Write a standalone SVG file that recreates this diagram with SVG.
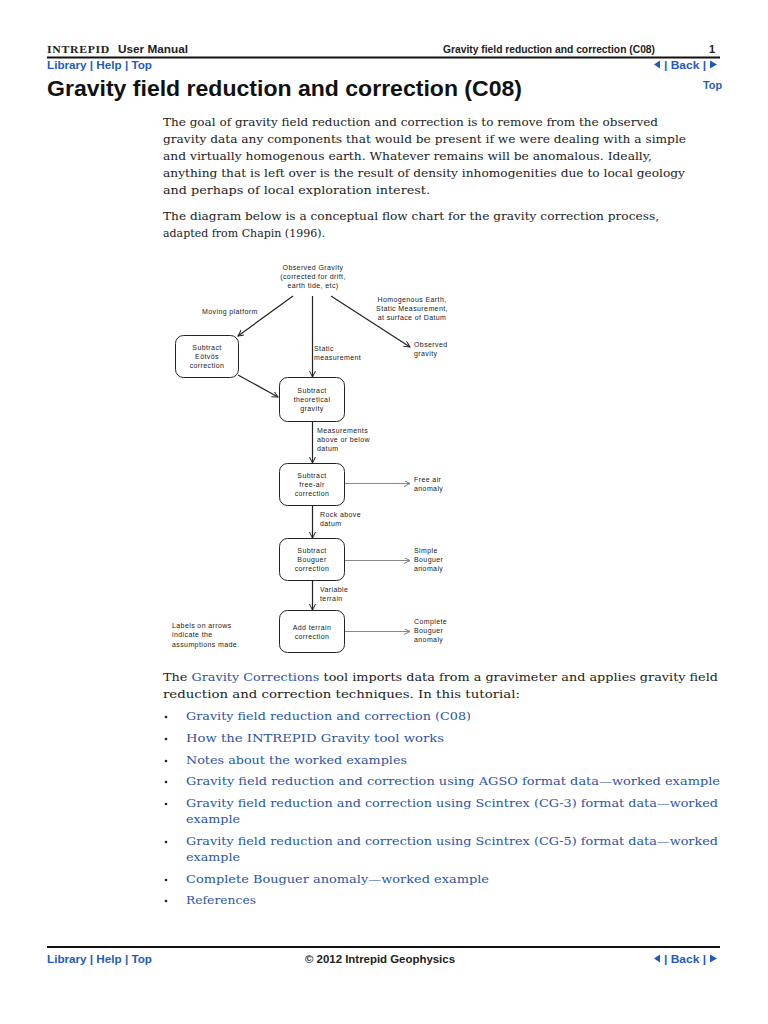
<svg xmlns="http://www.w3.org/2000/svg" width="768" height="1024" viewBox="0 0 768 1024">
<style>
.hd{font-family:"Liberation Sans",Arial,sans-serif;font-size:11px;font-weight:bold;fill:#222}
.lk{font-family:"Liberation Sans",Arial,sans-serif;font-size:11px;font-weight:bold;fill:#1f5cb8}
.title{font-family:"Liberation Sans",Arial,sans-serif;font-size:22px;font-weight:bold;fill:#111}
.body{font-family:"DejaVu Serif","Liberation Serif",serif;font-size:11.5px;fill:#222}
.blink{font-family:"DejaVu Serif","Liberation Serif",serif;font-size:11.5px;fill:#2a55a8}
.d{font-family:"Liberation Sans",Arial,sans-serif;font-size:7px;letter-spacing:0.4px;fill:#222}
.dc{font-family:"Liberation Sans",Arial,sans-serif;font-size:7px;letter-spacing:0.4px;fill:#222;text-anchor:middle}
.box{fill:#fff;stroke:#222;stroke-width:1}
.ln{stroke:#222;stroke-width:1.2;fill:none}
.lg{stroke:#888;stroke-width:1;fill:none}
</style>
<defs>
<marker id="ah" markerWidth="8" markerHeight="8" refX="6" refY="3" orient="auto" markerUnits="userSpaceOnUse">
<path d="M0,0 L6,3 L0,6" fill="none" stroke="#222" stroke-width="1"/>
</marker>
<marker id="ahg" markerWidth="8" markerHeight="8" refX="6" refY="3" orient="auto" markerUnits="userSpaceOnUse">
<path d="M0,0 L6,3 L0,6" fill="none" stroke="#777" stroke-width="1"/>
</marker>
</defs>
<rect width="768" height="1024" fill="#fff"/>

<!-- header -->
<g id="header">
<text x="47" y="53" font-family="Liberation Serif,serif" font-size="10" font-weight="bold" letter-spacing="0.6" fill="#222" textLength="63" lengthAdjust="spacingAndGlyphs">INTREPID</text>
<text class="hd" x="118" y="53" textLength="70" lengthAdjust="spacingAndGlyphs">User Manual</text>
<text class="hd" x="443" y="53" textLength="212" lengthAdjust="spacingAndGlyphs">Gravity field reduction and correction (C08)</text>
<text class="hd" x="709" y="53">1</text>
<rect x="47" y="56.5" width="673" height="2" fill="#111"/>
<text class="lk" x="47" y="69" textLength="105" lengthAdjust="spacingAndGlyphs">Library | Help | Top</text>
<path d="M660,60.5 L654,64.5 L660,68.5 Z" fill="#1f5cb8"/>
<text class="lk" x="664" y="69" textLength="42" lengthAdjust="spacingAndGlyphs">| Back |</text>
<path d="M710,60.5 L717,64.5 L710,68.5 Z" fill="#1f5cb8"/>
<text class="title" x="47" y="96" textLength="475" lengthAdjust="spacingAndGlyphs">Gravity field reduction and correction (C08)</text>
<text class="lk" x="703" y="89" textLength="19" lengthAdjust="spacingAndGlyphs">Top</text>
</g>

<!-- intro text -->
<g id="intro">
<text class="body" x="163" y="126" textLength="495" lengthAdjust="spacingAndGlyphs">The goal of gravity field reduction and correction is to remove from the observed</text>
<text class="body" x="163" y="143" textLength="523" lengthAdjust="spacingAndGlyphs">gravity data any components that would be present if we were dealing with a simple</text>
<text class="body" x="163" y="160" textLength="489" lengthAdjust="spacingAndGlyphs">and virtually homogenous earth. Whatever remains will be anomalous. Ideally,</text>
<text class="body" x="163" y="177" textLength="522" lengthAdjust="spacingAndGlyphs">anything that is left over is the result of density inhomogenities due to local geology</text>
<text class="body" x="163" y="194" textLength="267" lengthAdjust="spacingAndGlyphs">and perhaps of local exploration interest.</text>
<text class="body" x="163" y="220" textLength="496" lengthAdjust="spacingAndGlyphs">The diagram below is a conceptual flow chart for the gravity correction process,</text>
<text class="body" x="163" y="237" textLength="162" lengthAdjust="spacingAndGlyphs">adapted from Chapin (1996).</text>
</g>

<!-- connectors -->
<g id="connectors">
<line class="ln" x1="312.5" y1="296" x2="312.5" y2="377" marker-end="url(#ah)"/>
<line class="ln" x1="293" y1="296" x2="238" y2="336" marker-end="url(#ah)"/>
<line class="ln" x1="331" y1="296" x2="410" y2="347" marker-end="url(#ah)"/>
<line class="ln" x1="238" y1="375" x2="278" y2="397" marker-end="url(#ah)"/>
<line class="ln" x1="312.5" y1="421" x2="312.5" y2="463" marker-end="url(#ah)"/>
<line class="lg" x1="345" y1="483.5" x2="410" y2="483.5" marker-end="url(#ahg)"/>
<line class="ln" x1="312.5" y1="505" x2="312.5" y2="538" marker-end="url(#ah)"/>
<line class="lg" x1="345" y1="560.5" x2="410" y2="560.5" marker-end="url(#ahg)"/>
<line class="ln" x1="312.5" y1="581" x2="312.5" y2="610" marker-end="url(#ah)"/>
<line class="lg" x1="345" y1="631.5" x2="410" y2="631.5" marker-end="url(#ahg)"/>
</g>

<!-- nodes -->
<g id="n-observed">
<text class="dc" x="313" y="270">Observed Gravity</text>
<text class="dc" x="313" y="279">(corrected for drift,</text>
<text class="dc" x="313" y="288">earth tide, etc)</text>
</g>
<g id="lbl-moving"><text class="d" x="202" y="314">Moving platform</text></g>
<g id="lbl-homog">
<text class="dc" x="412" y="302">Homogenous Earth,</text>
<text class="dc" x="412" y="311">Static Measurement,</text>
<text class="dc" x="412" y="320">at surface of Datum</text>
</g>
<g id="n-obsgrav">
<text class="d" x="414" y="347">Observed</text>
<text class="d" x="414" y="356">gravity</text>
</g>
<g id="n-eotvos">
<rect class="box" x="175.5" y="335.5" width="63" height="42" rx="8"/>
<text class="dc" x="207" y="350">Subtract</text>
<text class="dc" x="207" y="359">Eötvös</text>
<text class="dc" x="207" y="368">correction</text>
</g>
<g id="lbl-static">
<text class="d" x="314" y="351">Static</text>
<text class="d" x="314" y="360">measurement</text>
</g>
<g id="n-theoretical">
<rect class="box" x="279.5" y="377.5" width="65" height="44" rx="8"/>
<text class="dc" x="312" y="393">Subtract</text>
<text class="dc" x="312" y="402">theoretical</text>
<text class="dc" x="312" y="411">gravity</text>
</g>
<g id="lbl-meas">
<text class="d" x="317" y="433">Measurements</text>
<text class="d" x="317" y="442">above or below</text>
<text class="d" x="317" y="451">datum</text>
</g>
<g id="n-freeair">
<rect class="box" x="279.5" y="463.5" width="65" height="42" rx="8"/>
<text class="dc" x="312" y="478">Subtract</text>
<text class="dc" x="312" y="487">free-air</text>
<text class="dc" x="312" y="496">correction</text>
</g>
<g id="n-freeanom">
<text class="d" x="414" y="482">Free air</text>
<text class="d" x="414" y="491">anomaly</text>
</g>
<g id="lbl-rock">
<text class="d" x="320" y="517">Rock above</text>
<text class="d" x="320" y="526">datum</text>
</g>
<g id="n-bouguer">
<rect class="box" x="279.5" y="538.5" width="65" height="42" rx="8"/>
<text class="dc" x="312" y="553">Subtract</text>
<text class="dc" x="312" y="562">Bouguer</text>
<text class="dc" x="312" y="571">correction</text>
</g>
<g id="n-simple">
<text class="d" x="414" y="553">Simple</text>
<text class="d" x="414" y="562">Bouguer</text>
<text class="d" x="414" y="571">anomaly</text>
</g>
<g id="lbl-variable">
<text class="d" x="320" y="592">Variable</text>
<text class="d" x="320" y="601">terrain</text>
</g>
<g id="n-terrain">
<rect class="box" x="279.5" y="610.5" width="65" height="42" rx="8"/>
<text class="dc" x="312" y="630">Add terrain</text>
<text class="dc" x="312" y="639">correction</text>
</g>
<g id="n-complete">
<text class="d" x="414" y="624">Complete</text>
<text class="d" x="414" y="633">Bouguer</text>
<text class="d" x="414" y="642">anomaly</text>
</g>
<g id="note">
<text class="d" x="172" y="628">Labels on arrows</text>
<text class="d" x="172" y="637">indicate the</text>
<text class="d" x="172" y="647">assumptions made.</text>
</g>

<!-- tutorial list -->
<g id="tutorial">
<text class="body" x="163" y="681" textLength="555" lengthAdjust="spacingAndGlyphs">The <tspan fill="#2a55a8">Gravity Corrections</tspan> tool imports data from a gravimeter and applies gravity field</text>
<text class="body" x="163" y="698" textLength="357" lengthAdjust="spacingAndGlyphs">reduction and correction techniques.  In this tutorial:</text>
<g fill="#222">
<circle cx="166" cy="717" r="1.3"/>
<circle cx="166" cy="739" r="1.3"/>
<circle cx="166" cy="761" r="1.3"/>
<circle cx="166" cy="782" r="1.3"/>
<circle cx="166" cy="804" r="1.3"/>
<circle cx="166" cy="842" r="1.3"/>
<circle cx="166" cy="880" r="1.3"/>
<circle cx="166" cy="901" r="1.3"/>
</g>
<text class="blink" x="186" y="720" textLength="285" lengthAdjust="spacingAndGlyphs">Gravity field reduction and correction (C08)</text>
<text class="blink" x="186" y="742" textLength="258" lengthAdjust="spacingAndGlyphs">How the INTREPID Gravity tool works</text>
<text class="blink" x="186" y="764" textLength="221" lengthAdjust="spacingAndGlyphs">Notes about the worked examples</text>
<text class="blink" x="186" y="785" textLength="534" lengthAdjust="spacingAndGlyphs">Gravity field reduction and correction using AGSO format data—worked example</text>
<text class="blink" x="186" y="807" textLength="532" lengthAdjust="spacingAndGlyphs">Gravity field reduction and correction using Scintrex (CG-3) format data—worked</text>
<text class="blink" x="186" y="823" textLength="54" lengthAdjust="spacingAndGlyphs">example</text>
<text class="blink" x="186" y="845" textLength="532" lengthAdjust="spacingAndGlyphs">Gravity field reduction and correction using Scintrex (CG-5) format data—worked</text>
<text class="blink" x="186" y="861" textLength="54" lengthAdjust="spacingAndGlyphs">example</text>
<text class="blink" x="186" y="883" textLength="303" lengthAdjust="spacingAndGlyphs">Complete Bouguer anomaly—worked example</text>
<text class="blink" x="186" y="904" textLength="70" lengthAdjust="spacingAndGlyphs">References</text>
</g>

<!-- footer -->
<g id="footer">
<rect x="47" y="946" width="673" height="2" fill="#111"/>
<text class="lk" x="47" y="963" textLength="105" lengthAdjust="spacingAndGlyphs">Library | Help | Top</text>
<text class="hd" x="305" y="963" textLength="150" lengthAdjust="spacingAndGlyphs">© 2012 Intrepid Geophysics</text>
<path d="M660,954.5 L654,958.5 L660,962.5 Z" fill="#1f5cb8"/>
<text class="lk" x="664" y="963" textLength="42" lengthAdjust="spacingAndGlyphs">| Back |</text>
<path d="M710,954.5 L717,958.5 L710,962.5 Z" fill="#1f5cb8"/>
</g>
</svg>
